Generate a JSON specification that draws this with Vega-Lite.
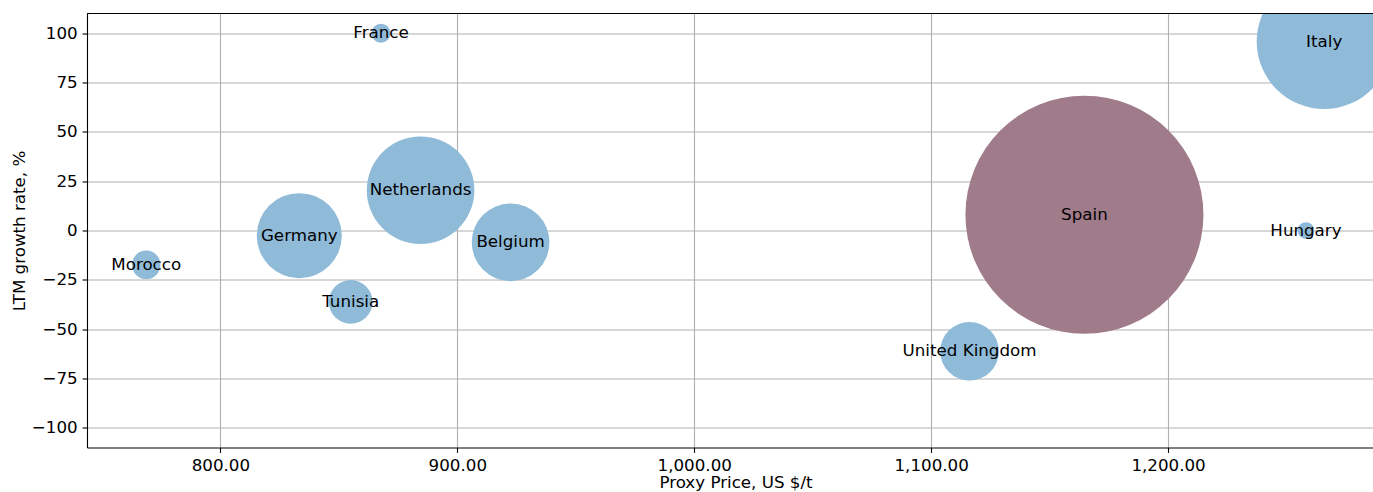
{
  "$schema": "https://vega.github.io/schema/vega-lite/v6.json",
  "width": 1286,
  "height": 434,
  "autosize": {"type": "none"},
  "padding": {"left": 87, "top": 13.5, "right": 0, "bottom": 44.5},
  "background": "white",
  "config": {
    "view": {"stroke": null},
    "font": "DejaVu Sans",
    "axis": {
      "grid": true,
      "gridColor": "#b0b0b0",
      "gridWidth": 1.1,
      "domainColor": "black",
      "domainWidth": 1.1,
      "tickColor": "black",
      "tickWidth": 1.1,
      "tickSize": 4.9,
      "labelPadding": 4.9,
      "labelFont": "DejaVu Sans",
      "labelFontSize": 16.7,
      "labelColor": "black",
      "labelFlush": false,
      "labelOverlap": false,
      "titleFont": "DejaVu Sans",
      "titleFontSize": 16.7,
      "titleFontWeight": "normal",
      "titleColor": "black",
      "titleAlign": "center",
      "titleBaseline": "alphabetic",
      "zindex": 1
    }
  },
  "layer": [
    {
      "data": {"values": [
        {"country": "France", "price": 867.8, "growth": 100.0, "volume": 361, "group": "Other"},
        {"country": "Italy", "price": 1265.9, "growth": 95.8, "volume": 18225, "group": "Other"},
        {"country": "Spain", "price": 1164.7, "growth": 8.0, "volume": 56644, "group": "Spain"},
        {"country": "Hungary", "price": 1258.2, "growth": 0.0, "volume": 279, "group": "Other"},
        {"country": "Netherlands", "price": 884.5, "growth": 20.4, "volume": 11578, "group": "Other"},
        {"country": "Germany", "price": 833.3, "growth": -2.6, "volume": 7225, "group": "Other"},
        {"country": "Belgium", "price": 922.5, "growth": -6.0, "volume": 6037, "group": "Other"},
        {"country": "Morocco", "price": 768.7, "growth": -17.4, "volume": 810, "group": "Other"},
        {"country": "Tunisia", "price": 855.0, "growth": -36.2, "volume": 1910, "group": "Other"},
        {"country": "United Kingdom", "price": 1116.2, "growth": -61.2, "volume": 3440, "group": "Other"}
      ]},
      "encoding": {
        "x": {
          "field": "price", "type": "quantitative",
          "scale": {"domain": [743.7, 1286.5], "nice": false, "zero": false},
          "axis": {
            "title": "Proxy Price, US $/t",
            "values": [800, 900, 1000, 1100, 1200],
            "format": ",.2f",
            "labelPadding": 5.5,
            "titleX": 648.5,
            "titleY": 40.2
          }
        },
        "y": {
          "field": "growth", "type": "quantitative",
          "scale": {"domain": [-110, 110], "nice": false, "zero": false},
          "axis": {
            "title": "LTM growth rate, %",
            "values": [-100, -75, -50, -25, 0, 25, 50, 75, 100],
            "format": "d",
            "titleX": -63,
            "titleY": 217,
            "titleAngle": 270
          }
        }
      },
      "layer": [
        {
          "mark": {"type": "circle", "clip": true, "opacity": 1, "strokeWidth": 0},
          "encoding": {
            "size": {"field": "volume", "type": "quantitative", "scale": {"domain": [0, 60000], "range": [0, 60000]}, "legend": null},
            "color": {"field": "group", "type": "nominal", "scale": {"domain": ["Other", "Spain"], "range": ["#8fbbd9", "#a07b8a"]}, "legend": null}
          }
        },
        {
          "mark": {"type": "text", "font": "DejaVu Sans", "fontSize": 16.7, "color": "black", "align": "center", "baseline": "middle"},
          "encoding": {"text": {"field": "country", "type": "nominal"}}
        }
      ]
    },
    {
      "data": {"values": [{}]},
      "mark": {"type": "rule", "color": "black", "strokeWidth": 1.1},
      "encoding": {"y": {"datum": 110, "type": "quantitative"}}
    }
  ]
}
